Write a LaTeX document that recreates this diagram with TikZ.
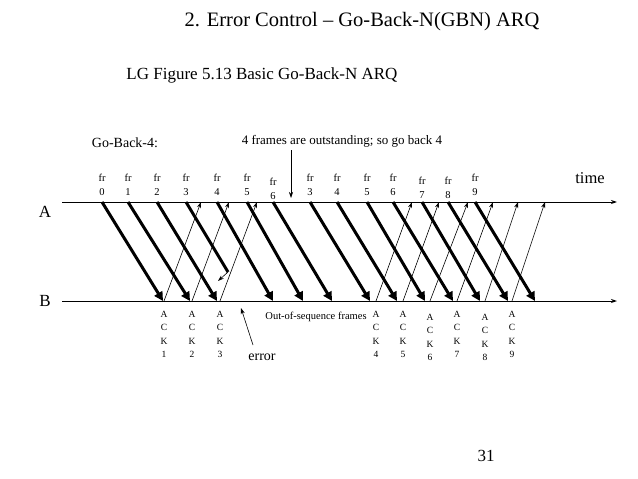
\documentclass[tikz,border=0pt]{standalone}
\usepackage{fontspec}
\setmainfont{Liberation Serif}
\usetikzlibrary{arrows.meta}
\begin{document}
\begin{tikzpicture}[x=1pt,y=-1pt,
  axis/.style={line width=1pt,-{Stealth[length=6pt,width=4pt]}},
  frame/.style={line width=3pt,-{Triangle[length=9pt,width=9pt]}},
  ack/.style={line width=0.6pt,-{Stealth[length=6pt,width=4pt]}},
  lbl/.style={font=\fontsize{10.5}{12}\selectfont,align=center,inner sep=0pt},
  ackl/.style={font=\fontsize{9.5}{13.5}\selectfont,align=center,inner sep=0pt,anchor=north}]
\useasboundingbox (0,0) rectangle (638,479);
\node (title) at (362,22) {\fontsize{20.5}{24}\selectfont 2. Error Control -- Go-Back-N(GBN) ARQ};
\node (sub) at (262,75) {\fontsize{17}{20}\selectfont LG Figure 5.13 Basic Go-Back-N ARQ};
\node (gb) at (125,143) {\fontsize{14}{16}\selectfont Go-Back-4:};
\node (out) at (342,141) {\fontsize{13}{15}\selectfont 4 frames are outstanding; so go back 4};
\node (time) at (590,178) {\fontsize{16.5}{18}\selectfont time};
\node (A) at (45,212) {\fontsize{17}{18}\selectfont A};
\node (B) at (45,301) {\fontsize{17}{18}\selectfont B};
\node (pg) at (486,456) {\fontsize{17}{18}\selectfont 31};
\coordinate (a0) at (62,202); \coordinate (a1) at (617,202);
\coordinate (b0) at (62,301); \coordinate (b1) at (617,301);
\draw[axis] (a0) -- (a1);
\draw[axis] (b0) -- (b1);
% frames
\foreach \i/\s/\e/\n/\ly in {0/102/163/0/0,1/128/190/1/0,2/157/217/2/0,4/217/273/4/0,5/247/303/5/0,
  6/273/332/6/4,7/310/370/3/0,8/337/397/4/0,9/367/425/5/0,10/393/453/6/0,11/422/480/7/3,12/448/508/8/3,13/475/535/9/0}{
  \coordinate (fs\i) at (\s,202); \coordinate (fe\i) at (\e,301);
  \draw[frame] (fs\i) -- (fe\i);
  \node[lbl] (fl\i) at (\s,185+\ly) {fr\\[2pt]\n};
}
\coordinate (fs3) at (186,202); \coordinate (fe3) at (228,272); \coordinate (fx3) at (218,281);
\draw[line width=3pt] (fs3) -- (fe3);
\draw[ack] (fe3) -- (fx3);
\node[lbl] (fl3) at (186,185) {fr\\[2pt]3};
% acks
\foreach \i/\s/\e/\ly in {1/164/201/0,2/192/229/0,3/220/257/0,4/376/412/0,5/403/439/0,6/430/468/3,7/457/493/0,8/485/518/3,9/512/545/0}{
  \coordinate (as\i) at (\s,301); \coordinate (ae\i) at (\e,202);
  \draw[ack] (as\i) -- (ae\i);
  \node[ackl] (al\i) at (\s,311+\ly) {A\\C\\K\\\i};
}
\node[inner sep=0pt,font=\fontsize{10.5}{12}\selectfont] (oos) at (316,317) {Out-of-sequence frames};
\node (err) at (262,357) {\fontsize{14}{16}\selectfont error};
\coordinate (e1) at (253,345); \coordinate (e2) at (241,308);
\draw[ack] (e1) -- (e2);
\coordinate (o1) at (291,150); \coordinate (o2) at (291,198);
\draw[ack] (o1) -- (o2);
\end{tikzpicture}
\end{document}
